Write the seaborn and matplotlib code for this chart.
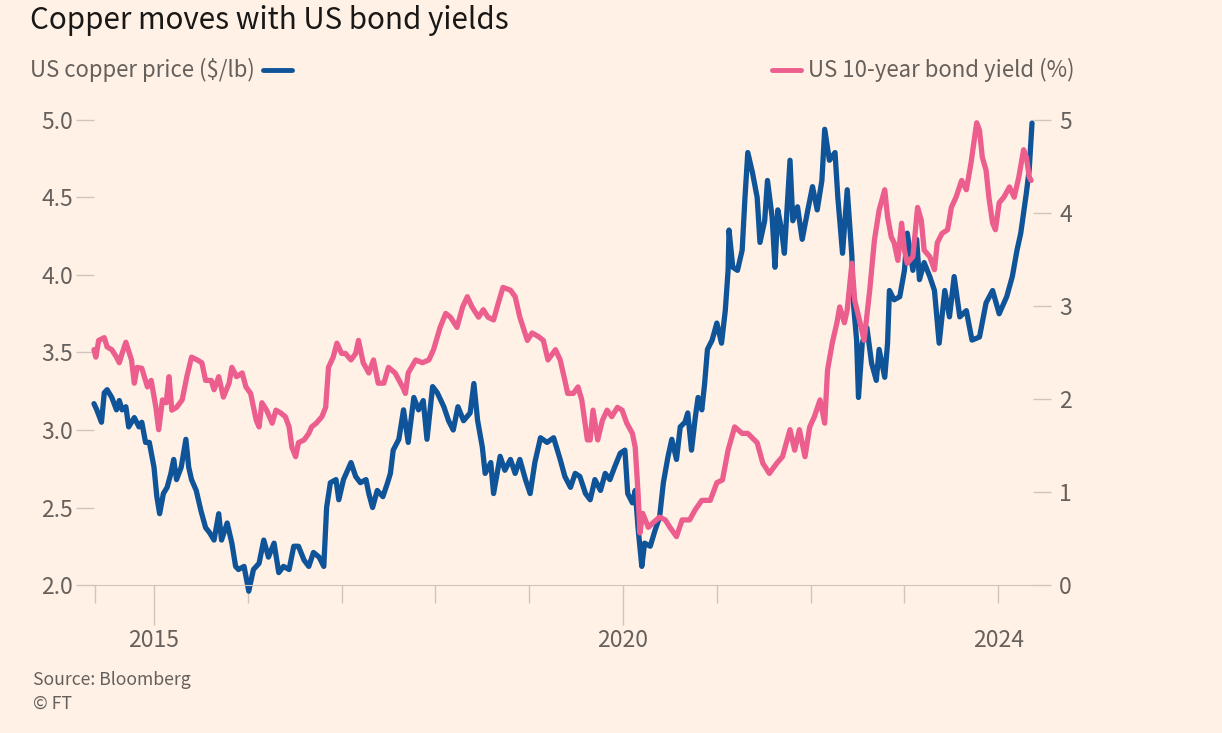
import pandas as pd
import seaborn as sns
import matplotlib.pyplot as plt
from matplotlib.lines import Line2D

# US copper price ($/lb) (decimal years)
copper_year = [2014.36, 2014.39, 2014.44, 2014.47, 2014.50, 2014.55, 2014.60, 2014.63, 2014.66, 2014.70,
               2014.73, 2014.79, 2014.84, 2014.87, 2014.91, 2014.95, 2015.00, 2015.03, 2015.06, 2015.10,
               2015.14, 2015.18, 2015.21, 2015.24, 2015.29, 2015.34, 2015.37, 2015.40, 2015.45, 2015.50,
               2015.55, 2015.59, 2015.64, 2015.69, 2015.72, 2015.78, 2015.83, 2015.87, 2015.90, 2015.96,
               2016.01, 2016.06, 2016.12, 2016.17, 2016.22, 2016.28, 2016.33, 2016.38, 2016.44, 2016.49,
               2016.54, 2016.60, 2016.65, 2016.70, 2016.76, 2016.81, 2016.84, 2016.88, 2016.94, 2016.97,
               2017.02, 2017.10, 2017.15, 2017.20, 2017.26, 2017.29, 2017.33, 2017.38, 2017.44, 2017.49,
               2017.52, 2017.55, 2017.61, 2017.66, 2017.71, 2017.77, 2017.82, 2017.87, 2017.91, 2017.97,
               2018.02, 2018.09, 2018.14, 2018.19, 2018.24, 2018.30, 2018.37, 2018.41, 2018.45, 2018.50,
               2018.53, 2018.59, 2018.62, 2018.69, 2018.74, 2018.80, 2018.85, 2018.90, 2018.96, 2019.01,
               2019.06, 2019.12, 2019.19, 2019.26, 2019.33, 2019.38, 2019.44, 2019.49, 2019.54, 2019.60,
               2019.65, 2019.70, 2019.76, 2019.81, 2019.86, 2019.91, 2019.97, 2020.02, 2020.05, 2020.10,
               2020.13, 2020.16, 2020.20, 2020.23, 2020.29, 2020.34, 2020.39, 2020.43, 2020.48, 2020.52,
               2020.57, 2020.61, 2020.66, 2020.69, 2020.73, 2020.77, 2020.80, 2020.84, 2020.87, 2020.90,
               2020.95, 2021.00, 2021.05, 2021.09, 2021.12, 2021.13, 2021.17, 2021.22, 2021.27, 2021.30,
               2021.33, 2021.38, 2021.43, 2021.46, 2021.51, 2021.54, 2021.59, 2021.62, 2021.65, 2021.69,
               2021.72, 2021.78, 2021.81, 2021.86, 2021.91, 2021.97, 2022.02, 2022.07, 2022.12, 2022.15,
               2022.20, 2022.26, 2022.29, 2022.34, 2022.39, 2022.44, 2022.45, 2022.49, 2022.51, 2022.55,
               2022.60, 2022.65, 2022.70, 2022.73, 2022.79, 2022.82, 2022.84, 2022.89, 2022.95, 2023.00,
               2023.03, 2023.09, 2023.13, 2023.16, 2023.21, 2023.27, 2023.32, 2023.37, 2023.43, 2023.48,
               2023.53, 2023.59, 2023.66, 2023.72, 2023.80, 2023.87, 2023.94, 2024.01, 2024.09, 2024.15,
               2024.20, 2024.24, 2024.30, 2024.33, 2024.36]
copper_price = [3.17, 3.13, 3.05, 3.24, 3.26, 3.21, 3.13, 3.19, 3.13, 3.15,
                3.02, 3.08, 3.02, 3.05, 2.92, 2.92, 2.76, 2.57, 2.46, 2.59,
                2.63, 2.72, 2.81, 2.68, 2.76, 2.94, 2.76, 2.68, 2.61, 2.48,
                2.37, 2.34, 2.29, 2.46, 2.29, 2.40, 2.27, 2.12, 2.10, 2.12,
                1.96, 2.10, 2.14, 2.29, 2.18, 2.27, 2.08, 2.12, 2.10, 2.25,
                2.25, 2.16, 2.12, 2.21, 2.18, 2.12, 2.50, 2.66, 2.68, 2.55,
                2.68, 2.79, 2.70, 2.66, 2.68, 2.59, 2.50, 2.61, 2.57, 2.66,
                2.72, 2.87, 2.94, 3.13, 2.92, 3.21, 3.13, 3.19, 2.94, 3.28,
                3.24, 3.15, 3.06, 3.00, 3.15, 3.06, 3.11, 3.30, 3.06, 2.89,
                2.72, 2.79, 2.59, 2.83, 2.74, 2.81, 2.72, 2.81, 2.68, 2.59,
                2.79, 2.95, 2.92, 2.95, 2.81, 2.70, 2.63, 2.72, 2.70, 2.59,
                2.55, 2.68, 2.61, 2.72, 2.68, 2.76, 2.85, 2.87, 2.59, 2.53,
                2.61, 2.37, 2.12, 2.27, 2.25, 2.35, 2.44, 2.66, 2.83, 2.94,
                2.81, 3.02, 3.05, 3.11, 2.87, 3.08, 3.21, 3.13, 3.30, 3.52,
                3.58, 3.69, 3.56, 3.77, 4.03, 4.29, 4.05, 4.03, 4.16, 4.50,
                4.79, 4.66, 4.50, 4.21, 4.35, 4.61, 4.37, 4.05, 4.42, 4.29,
                4.14, 4.74, 4.35, 4.44, 4.23, 4.42, 4.57, 4.42, 4.61, 4.94,
                4.74, 4.79, 4.50, 4.14, 4.55, 4.12, 3.86, 3.58, 3.21, 3.56,
                3.66, 3.43, 3.32, 3.52, 3.34, 3.56, 3.90, 3.84, 3.86, 4.03,
                4.27, 4.03, 4.23, 3.97, 4.08, 3.99, 3.90, 3.56, 3.90, 3.73,
                3.99, 3.73, 3.77, 3.58, 3.60, 3.82, 3.90, 3.75, 3.86, 3.99,
                4.16, 4.27, 4.53, 4.68, 4.98]

# US 10-year bond yield (%)
yield_year = [2014.36, 2014.38, 2014.41, 2014.47, 2014.50, 2014.55, 2014.60, 2014.63, 2014.66, 2014.70,
              2014.76, 2014.79, 2014.82, 2014.87, 2014.93, 2014.97, 2015.02, 2015.05, 2015.09, 2015.13,
              2015.16, 2015.19, 2015.24, 2015.30, 2015.35, 2015.40, 2015.46, 2015.51, 2015.55, 2015.61,
              2015.64, 2015.69, 2015.74, 2015.80, 2015.83, 2015.88, 2015.94, 2015.98, 2016.03, 2016.09,
              2016.12, 2016.15, 2016.20, 2016.26, 2016.30, 2016.35, 2016.40, 2016.44, 2016.47, 2016.51,
              2016.54, 2016.60, 2016.65, 2016.68, 2016.73, 2016.79, 2016.83, 2016.86, 2016.91, 2016.95,
              2017.00, 2017.04, 2017.10, 2017.15, 2017.18, 2017.23, 2017.29, 2017.34, 2017.39, 2017.45,
              2017.50, 2017.57, 2017.65, 2017.68, 2017.71, 2017.79, 2017.86, 2017.93, 2017.98, 2018.05,
              2018.11, 2018.16, 2018.23, 2018.29, 2018.34, 2018.39, 2018.46, 2018.51, 2018.56, 2018.62,
              2018.67, 2018.72, 2018.80, 2018.85, 2018.90, 2018.98, 2019.03, 2019.10, 2019.15, 2019.20,
              2019.28, 2019.33, 2019.38, 2019.41, 2019.47, 2019.52, 2019.56, 2019.62, 2019.65, 2019.68,
              2019.73, 2019.78, 2019.83, 2019.88, 2019.94, 2019.99, 2020.04, 2020.10, 2020.13, 2020.16,
              2020.18, 2020.21, 2020.27, 2020.32, 2020.39, 2020.45, 2020.50, 2020.57, 2020.63, 2020.71,
              2020.77, 2020.84, 2020.93, 2021.00, 2021.06, 2021.12, 2021.19, 2021.27, 2021.33, 2021.43,
              2021.49, 2021.56, 2021.64, 2021.70, 2021.78, 2021.83, 2021.88, 2021.94, 2021.99, 2022.04,
              2022.10, 2022.15, 2022.18, 2022.23, 2022.28, 2022.31, 2022.36, 2022.39, 2022.44, 2022.47,
              2022.52, 2022.57, 2022.63, 2022.68, 2022.73, 2022.79, 2022.82, 2022.86, 2022.89, 2022.93,
              2022.97, 2023.00, 2023.03, 2023.09, 2023.14, 2023.18, 2023.21, 2023.27, 2023.32, 2023.35,
              2023.40, 2023.46, 2023.50, 2023.55, 2023.61, 2023.66, 2023.71, 2023.77, 2023.80, 2023.83,
              2023.87, 2023.90, 2023.94, 2023.97, 2024.01, 2024.06, 2024.12, 2024.17, 2024.22, 2024.27,
              2024.30, 2024.33, 2024.35]
bond_yield = [2.53, 2.45, 2.63, 2.66, 2.56, 2.53, 2.45, 2.39, 2.49, 2.61,
              2.42, 2.17, 2.34, 2.33, 2.13, 2.20, 1.91, 1.67, 1.99, 1.96,
              2.24, 1.88, 1.91, 1.99, 2.24, 2.45, 2.42, 2.39, 2.20, 2.20,
              2.10, 2.24, 2.02, 2.17, 2.34, 2.24, 2.28, 2.13, 2.06, 1.77,
              1.70, 1.96, 1.88, 1.74, 1.88, 1.85, 1.81, 1.70, 1.48, 1.38,
              1.53, 1.56, 1.63, 1.70, 1.74, 1.81, 1.91, 2.34, 2.45, 2.60,
              2.49, 2.49, 2.42, 2.49, 2.63, 2.39, 2.28, 2.42, 2.17, 2.17,
              2.34, 2.28, 2.13, 2.06, 2.28, 2.42, 2.39, 2.42, 2.53, 2.77,
              2.92, 2.88, 2.77, 2.99, 3.10, 2.99, 2.88, 2.96, 2.88, 2.85,
              3.03, 3.20, 3.17, 3.10, 2.88, 2.63, 2.71, 2.67, 2.63, 2.42,
              2.53, 2.42, 2.20, 2.06, 2.06, 2.13, 1.99, 1.56, 1.56, 1.88,
              1.56, 1.77, 1.88, 1.81, 1.91, 1.88, 1.74, 1.63, 1.48, 0.99,
              0.56, 0.77, 0.62, 0.67, 0.73, 0.70, 0.62, 0.52, 0.70, 0.70,
              0.81, 0.91, 0.91, 1.10, 1.13, 1.45, 1.70, 1.63, 1.63, 1.53,
              1.31, 1.20, 1.31, 1.38, 1.67, 1.45, 1.67, 1.38, 1.70, 1.81,
              1.99, 1.74, 2.31, 2.60, 2.82, 2.99, 2.82, 2.96, 3.46, 3.06,
              2.85, 2.63, 3.17, 3.71, 4.03, 4.25, 3.96, 3.74, 3.68, 3.49,
              3.89, 3.60, 3.46, 3.53, 4.06, 3.92, 3.60, 3.53, 3.39, 3.68,
              3.78, 3.82, 4.06, 4.17, 4.35, 4.25, 4.54, 4.97, 4.89, 4.60,
              4.46, 4.17, 3.89, 3.82, 4.11, 4.17, 4.28, 4.17, 4.39, 4.68,
              4.60, 4.39, 4.35]

year_labels = [2015, 2020, 2024]
minor_years = [2014.37, 2016, 2017, 2018, 2019, 2021, 2022, 2023]
left_ticks = [2.0, 2.5, 3.0, 3.5, 4.0, 4.5, 5.0]
right_ticks = [0, 1, 2, 3, 4, 5]

BG = '#FFF1E5'
BLUE = '#0F5499'
PINK = '#EB5E8D'
TXT = '#66605C'
GRID = '#CFC5BB'

sns.set_style('white', {'axes.facecolor': BG, 'figure.facecolor': BG})
plt.rcParams['font.family'] = ['Noto Sans CJK JP', 'DejaVu Sans']

fig = plt.figure(figsize=(12.22, 7.33), dpi=100)
ax = fig.add_axes([0.0769, 0.2019, 0.7684, 0.6344])
ax2 = ax.twinx()

copper = pd.DataFrame({'year': copper_year, 'price': copper_price})
yields = pd.DataFrame({'year': yield_year, 'yield': bond_yield})
sns.lineplot(data=copper, x='year', y='price', ax=ax, color=BLUE, lw=3.8,
             estimator=None, clip_on=False)
sns.lineplot(data=yields, x='year', y='yield', ax=ax2, color=PINK, lw=3.8,
             estimator=None, clip_on=False)

ax.set_xlim(2014.36, 2024.37)
ax.set_ylim(2, 5)
ax2.set_ylim(0, 5)
for a in (ax, ax2):
    for s in a.spines.values():
        s.set_visible(False)
    a.set_xlabel('')
    a.set_ylabel('')
ax.spines['bottom'].set_visible(True)
ax.spines['bottom'].set_color(GRID)

ax.set_yticks(left_ticks)
ax.set_yticklabels([f'{t:.1f}' for t in left_ticks])
ax.tick_params(axis='y', left=True, length=13, width=1, color=GRID,
               labelcolor=TXT, labelsize=16.5, pad=2)
ax2.set_yticks(right_ticks)
ax2.set_yticklabels([str(t) for t in right_ticks])
ax2.tick_params(axis='y', right=True, length=13, width=1, color=GRID,
                labelcolor=TXT, labelsize=16.5, pad=6)

ax.set_xticks(year_labels)
ax.set_xticklabels([str(y) for y in year_labels])
ax.set_xticks(minor_years, minor=True)
ax.tick_params(axis='x', which='major', bottom=True, length=29, width=1, color=GRID,
               labelcolor=TXT, labelsize=16.5, pad=3)
ax.tick_params(axis='x', which='minor', bottom=True, length=13, width=1, color=GRID)
# 2024 carries a label but only a short tick
ax.xaxis.get_major_ticks()[2].tick1line.set_markersize(13)

fig.text(30 / 1222, 1 - 20 / 733, 'Copper moves with US bond yields',
         fontsize=21.3, color='#1A1817', va='center')
t1 = fig.text(30 / 1222, 1 - 70 / 733, 'US copper price ($/lb)',
              fontsize=16, color=TXT, va='center')
t2 = fig.text(1075 / 1222, 1 - 70 / 733, 'US 10-year bond yield (%)',
              fontsize=16, color=TXT, va='center', ha='right')
fig.text(33 / 1222, 1 - 680 / 733, 'Source: Bloomberg', fontsize=12.7, color=TXT, va='center')
fig.text(33 / 1222, 1 - 704 / 733, '© FT', fontsize=12.7, color=TXT, va='center', style='italic')

# legend keys placed next to the header texts
fig.canvas.draw()
inv = fig.transFigure.inverted()
b1 = inv.transform(t1.get_window_extent())
b2 = inv.transform(t2.get_window_extent())
ky = 1 - 70 / 733
key_w = 29 / 1222
gap = 8 / 1222
fig.add_artist(Line2D([b1[1, 0] + gap, b1[1, 0] + gap + key_w], [ky, ky],
                      color=BLUE, lw=3.5, transform=fig.transFigure))
fig.add_artist(Line2D([b2[0, 0] - gap - key_w, b2[0, 0] - gap], [ky, ky],
                      color=PINK, lw=3.5, transform=fig.transFigure))

fig.savefig('out.png', dpi=100, facecolor=BG)
